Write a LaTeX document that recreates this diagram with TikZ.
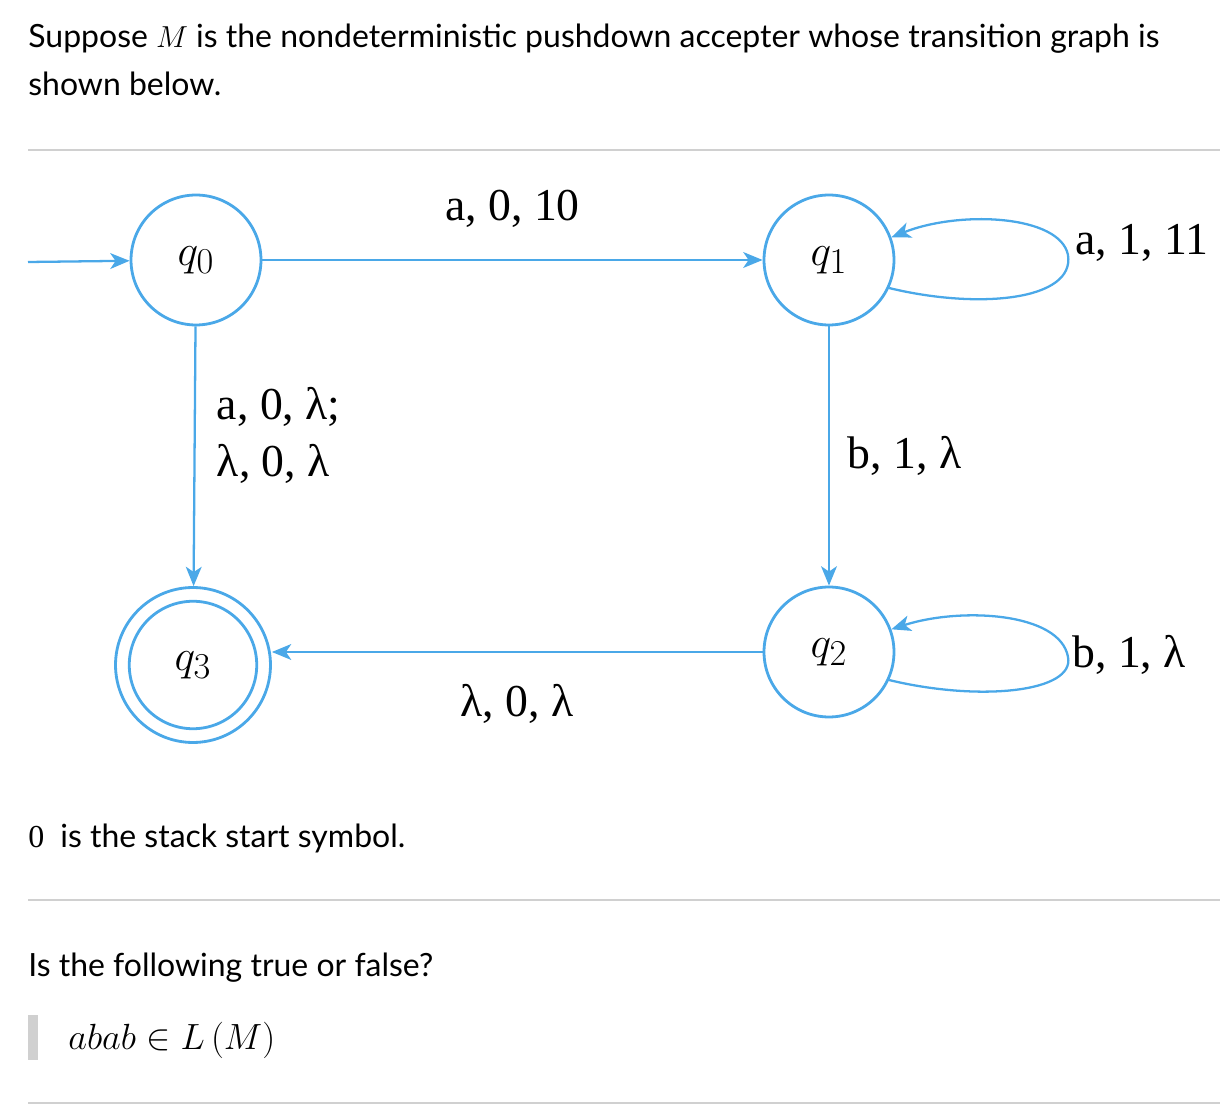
\documentclass[tikz,border=0pt]{standalone}
\usepackage{fontspec}
\setmainfont{Lato}
\newfontfamily\dg{Liberation Serif}
\usetikzlibrary{arrows.meta}
\definecolor{edge}{HTML}{4AA8E8}
\definecolor{rule}{HTML}{D0D0D0}
\begin{document}
\begin{tikzpicture}[x=0.02cm,y=-0.02cm,
  st/.style={circle,draw=edge,line width=1.6pt,minimum size=2.6cm,inner sep=0pt,font=\dg\fontsize{30}{32}\selectfont},
  tr/.style={draw=edge,line width=1.3pt,-{Stealth[length=11pt,width=9pt,inset=3pt]}},
  lb/.style={font=\dg\fontsize{26}{32}\selectfont,inner sep=0pt},
  body/.style={font=\fontsize{18.2}{22}\selectfont,anchor=base west,inner sep=0pt},
  hr/.style={draw=rule,line width=1pt}]
\useasboundingbox (0,0) rectangle (1232,1114);
\node[body] (t1) at (28,48) {Suppose $M$ is the nondeterministic pushdown accepter whose transition graph is};
\node[body] (t2) at (28,96) {shown below.};
\draw[hr] (28,150) -- (1220,150);

\node[st] (q0) at (196,260) {$q_0$};
\node[st] (q1) at (829,260) {$q_1$};
\node[st] (q2) at (829,652) {$q_2$};
\node[st,minimum size=3.1cm] (q3) at (193,665) {};
\node[st,minimum size=2.55cm] (q3i) at (193,665) {$q_3$};
\coordinate (start) at (28,262);

\draw[tr] (start) -- (q0);
\draw[tr] (q0) -- (q1) node[lb,midway,above=18pt] (l1) {a, 0, 10};
\draw[tr] (q0) -- (q3) node[lb,pos=0.42,right=12pt,align=left] (l2) {a, 0, λ;\\λ, 0, λ};
\draw[tr] (q1) -- (q2) node[lb,midway,right=10pt] (l3) {b, 1, λ};
\draw[tr] (q2.west) -- (q3.east |- q2.west) node[lb,midway,below=18pt] (l4) {λ, 0, λ};
\draw[tr] (q1.-25) .. controls (980,310) and (1075,300) .. (1068,255)
  .. controls (1060,215) and (960,210) .. (q1.20);
\node[lb,anchor=west] (l5) at (1075,243) {a, 1, 11};
\draw[tr] (q2.-25) .. controls (980,702) and (1075,692) .. (1068,657)
  .. controls (1060,612) and (960,607) .. (q2.20);
\node[lb,anchor=west] (l6) at (1072,655) {b, 1, λ};

\node[body] (t3) at (28,848) {\dg 0\ \ \fontspec{Lato}is the stack start symbol.};
\draw[hr] (28,900) -- (1220,900);
\node[body] (t4) at (28,977) {Is the following true or false?};
\fill[rule] (28,1015) rectangle (38,1060);
\node[body,font=\fontsize{21}{24}\selectfont] (t5) at (68,1050) {$abab \in L\,(M)$};
\draw[hr] (28,1103) -- (1220,1103);
\end{tikzpicture}
\end{document}
